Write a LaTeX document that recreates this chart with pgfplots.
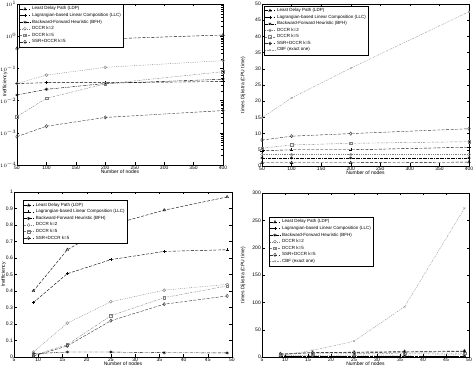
\documentclass[border=0pt]{standalone}
\usepackage{fontspec}
\setmainfont{Liberation Sans}
\usepackage{pgfplots}
\pgfplotsset{compat=1.18}
\begin{document}
\begin{tikzpicture}
\path[use as bounding box] (0pt,0pt) rectangle (474pt,369pt);
\pgfplotsset{
  every axis/.append style={
    scale only axis, anchor=south west,
    tick label style={font=\fontsize{5}{6}\selectfont, inner sep=1pt},
    label style={font=\fontsize{5}{6}\selectfont},
    xlabel style={yshift=4pt},
    major tick length=2.5pt, minor tick length=1.5pt,
    tick style={black, line width=0.3pt},
    axis line style={line width=0.4pt},
    legend cell align=left,
    legend style={font=\fontsize{4.5}{5}\selectfont, draw=black, line width=0.4pt, inner sep=0.5pt, row sep=-2.2pt, anchor=north west},
    legend image code/.code={\draw[mark repeat=2,mark phase=2] plot coordinates {(0pt,0pt) (5pt,0pt) (10pt,0pt)};},
  },
  lin/.style={/pgf/number format/assume math mode=true},
  ldp/.style={black, line width=0.4pt, dash pattern=on 3pt off 1.5pt, mark=triangle, mark size=1.6pt, mark options={solid}},
  llc/.style={black, line width=0.4pt, dash pattern=on 3pt off 1.5pt, mark=+, mark size=1.6pt, mark options={solid}},
  bfh/.style={black, line width=0.4pt, dash pattern=on 3pt off 1pt on 0.6pt off 1pt, mark=asterisk, mark size=1.6pt, mark options={solid}},
  dk2/.style={gray, line width=0.4pt, dash pattern=on 0.8pt off 1pt, mark=o, mark size=1.5pt, mark options={solid}},
  dk5/.style={gray, line width=0.4pt, dash pattern=on 2pt off 1pt on 0.6pt off 1pt, mark=square, mark size=1.3pt, mark options={solid}},
  ssr/.style={black!80, line width=0.4pt, dash pattern=on 3pt off 1.5pt, mark=diamond, mark size=1.7pt, mark options={solid}},
  cbf/.style={gray!80, line width=0.4pt, dash pattern=on 0.8pt off 1pt on 2pt off 1pt, mark=x, mark size=1.3pt, mark options={solid}},
}
% ---------------- top left ----------------
\begin{axis}[at={(17pt,204pt)}, width=206pt, height=161pt,
  ymode=log, xmin=50, xmax=400, ymin=1e-4, ymax=10,
  xtick={50,100,...,400},
  xticklabel style={/pgf/number format/assume math mode=true},
  yticklabel style={font=\fontsize{4.2}{5}\selectfont, inner sep=0.5pt},
  xlabel={Number of nodes}, ylabel={Inefficiency},
  ylabel style={at={(axis description cs:-0.058,0.5)}, anchor=center},
  legend style={at={(0.01,1)}}]
\addplot[ldp] coordinates {(50,0.42) (100,0.63) (200,0.82) (400,1.09)};
\addplot[llc] coordinates {(50,0.034) (100,0.036) (200,0.036) (400,0.039)};
\addplot[bfh] coordinates {(50,0.0149) (100,0.0224) (200,0.034) (400,0.046)};
\addplot[dk2] coordinates {(50,0.034) (100,0.062) (200,0.108) (400,0.174)};
\addplot[dk5] coordinates {(50,0.0032) (100,0.0118) (200,0.033) (400,0.079)};
\addplot[ssr] coordinates {(50,0.00076) (100,0.0016) (200,0.0030) (400,0.0049)};
\legend{Least Delay Path (LDP), Lagrangian-based Linear Composition (LLC), Backward-Forward Heuristic (BFH), DCCR k=2, DCCR k=5, SSR+DCCR k=5}
\end{axis}
% ---------------- top right ----------------
\begin{axis}[at={(262pt,203pt)}, width=207pt, height=162pt, lin,
  xmin=50, xmax=400, ymin=0, ymax=50,
  xtick={50,100,...,400}, ytick={0,5,...,50},
  xlabel={Number of nodes}, ylabel={times Dijkstra (CPU time)},
  ylabel style={at={(axis description cs:-0.092,0.5)}, anchor=center},
  legend style={at={(0.01,0.99)}}]
\addplot[ldp] coordinates {(50,1) (100,1) (200,1) (400,1.2)};
\addplot[llc] coordinates {(50,4.7) (100,5) (200,5) (400,5.8)};
\addplot[bfh] coordinates {(50,2.5) (100,2.5) (200,2.5) (400,2.5)};
\addplot[dk2] coordinates {(50,3.5) (100,3.5) (200,3.5) (400,3.5)};
\addplot[dk5] coordinates {(50,5.5) (100,6.5) (200,7) (400,7.5)};
\addplot[ssr] coordinates {(50,8) (100,9.2) (200,10) (400,11.5)};
\addplot[cbf] coordinates {(50,14.9) (100,21) (200,30.2) (400,47.6)};
\legend{Least Delay Path (LDP), Lagrangian-based Linear Composition (LLC), Backward-Forward Heuristic (BFH), DCCR k=2, DCCR k=5, SSR+DCCR k=5, CBF (exact one)}
\end{axis}
% ---------------- bottom left ----------------
\begin{axis}[at={(14pt,12pt)}, width=218pt, height=165pt, lin,
  xmin=5, xmax=50, ymin=0, ymax=1,
  xtick={5,10,...,50}, ytick={0,0.1,...,1},
  yticklabel style={/pgf/number format/fixed},
  xlabel={Number of nodes}, ylabel={Inefficiency},
  ylabel style={at={(axis description cs:-0.048,0.5)}, anchor=center},
  legend style={at={(0.04,0.95)}}]
\addplot[ldp] coordinates {(9,0.40) (16,0.65) (25,0.80) (36,0.89) (49,0.97)};
\addplot[llc] coordinates {(9,0.33) (16,0.505) (25,0.59) (36,0.64) (49,0.65)};
\addplot[bfh] coordinates {(9,0.02) (16,0.03) (25,0.03) (36,0.026) (49,0.025)};
\addplot[dk2] coordinates {(9,0.03) (16,0.205) (25,0.335) (36,0.405) (49,0.44)};
\addplot[dk5] coordinates {(9,0.01) (16,0.075) (25,0.25) (36,0.36) (49,0.43)};
\addplot[ssr] coordinates {(9,0.005) (16,0.067) (25,0.22) (36,0.32) (49,0.37)};
\legend{Least Delay Path (LDP), Lagrangian-based Linear Composition (LLC), Backward-Forward Heuristic (BFH), DCCR k=2, DCCR k=5, SSR+DCCR k=5}
\end{axis}
% ---------------- bottom right ----------------
\begin{axis}[at={(262pt,12pt)}, width=207pt, height=164pt, lin,
  xmin=5, xmax=50, ymin=0, ymax=300,
  xtick={5,10,...,50}, ytick={0,50,...,300},
  xlabel={Number of nodes}, ylabel={times Dijkstra (CPU time)},
  ylabel style={at={(axis description cs:-0.092,0.5)}, anchor=center},
  legend style={at={(0.034,0.854)}}]
\addplot[ldp] coordinates {(9,1) (16,1) (25,1) (36,1) (49,1)};
\addplot[llc] coordinates {(9,5) (16,8) (25,8) (36,9) (49,10)};
\addplot[bfh] coordinates {(9,2) (16,2) (25,2) (36,2) (49,2)};
\addplot[dk2] coordinates {(9,3) (16,3) (25,3.5) (36,3.5) (49,4)};
\addplot[dk5] coordinates {(9,5) (16,6) (25,6) (36,7) (49,7)};
\addplot[ssr] coordinates {(9,6) (16,8) (25,9) (36,10) (49,11)};
\addplot[cbf] coordinates {(9,3) (16,12) (25,29) (36,92) (49,272)};
\legend{Least Delay Path (LDP), Lagrangian-based Linear Composition (LLC), Backward-Forward Heuristic (BFH), DCCR k=2, DCCR k=5, SSR+DCCR k=5, CBF (exact one)}
\end{axis}
\end{tikzpicture}
\end{document}
